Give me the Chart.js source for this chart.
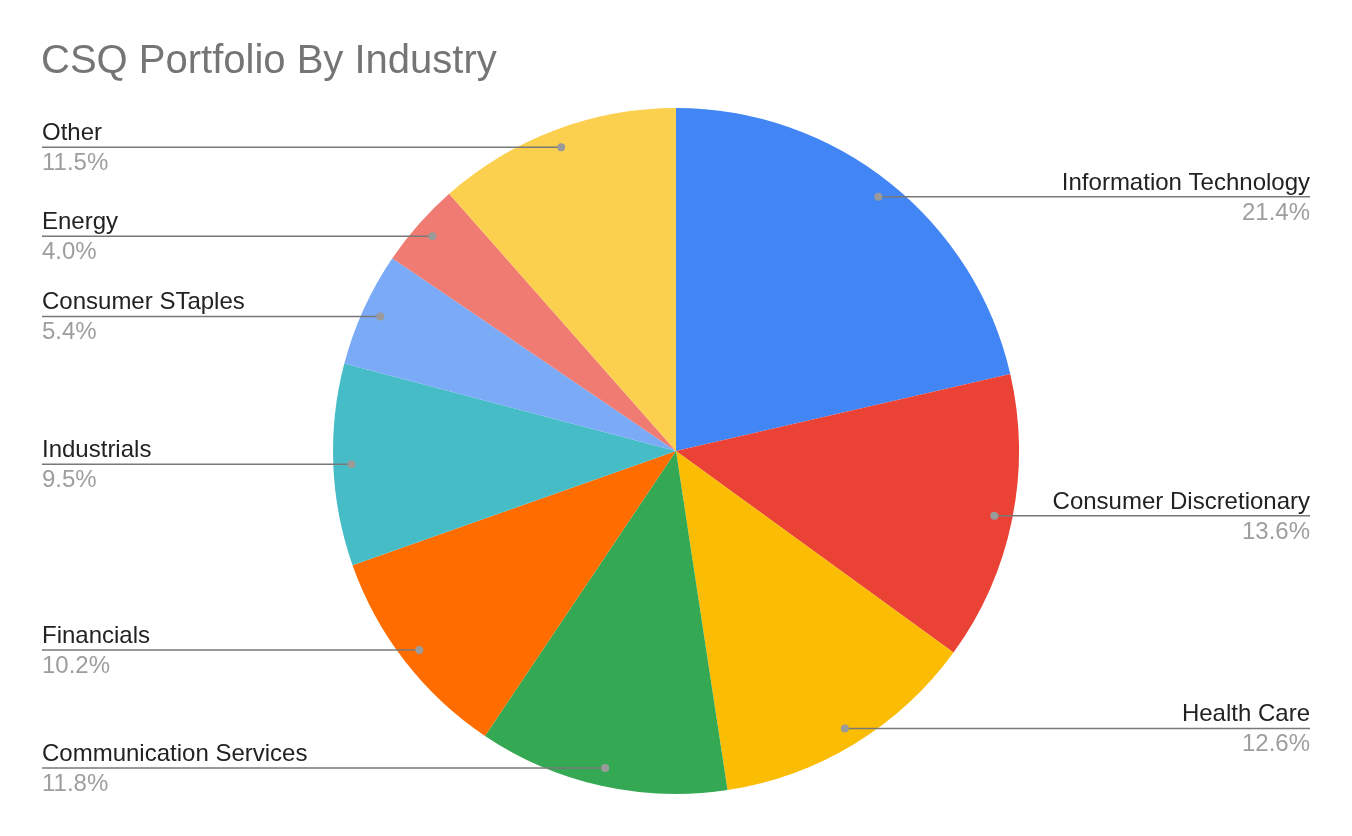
<!DOCTYPE html>
<html lang="en">
<head>
    <meta charset="UTF-8">
    <title>CSQ Portfolio By Industry</title>
    <script src="https://cdn.jsdelivr.net/npm/chart.js"></script>
    <style>
        html, body { margin: 0; padding: 0; background: #fff; }
        #wrap { width: 1352px; height: 836px; }
    </style>
</head>
<body>
    <div id="wrap"><canvas id="pieChart"></canvas></div>

    <script>
        // dados do grafico
        const industries = [
            'Information Technology', 'Consumer Discretionary', 'Health Care',
            'Communication Services', 'Financials', 'Industrials',
            'Consumer STaples', 'Energy', 'Other'
        ];
        const weights = [21.4, 13.6, 12.6, 11.8, 10.2, 9.5, 5.4, 4.0, 11.5];
        const sliceColors = [
            '#4285F4', '#EA4335', '#FBBC04', '#34A853', '#FF6D01',
            '#46BDC6', '#7BAAF7', '#F07B72', '#FCD04F'
        ];
        const chartTitle = 'CSQ Portfolio By Industry';

        const FONT = '"Liberation Sans", Arial, sans-serif';

        // titulo + rotulos com linhas guia
        const labelsPlugin = {
            id: 'leaderLabels',
            afterDraw(chart) {
                const ctx = chart.ctx;
                ctx.save();
                ctx.font = '40px ' + FONT;
                ctx.fillStyle = '#757575';
                ctx.textAlign = 'left';
                ctx.textBaseline = 'alphabetic';
                ctx.fillText(chartTitle, 41, 73);

                const total = weights.reduce((a, b) => a + b, 0);
                const arcs = chart.getDatasetMeta(0).data;
                arcs.forEach((arc, i) => {
                    const mid = (arc.startAngle + arc.endAngle) / 2;
                    const r = arc.outerRadius * 0.947;
                    const dx = arc.x + Math.cos(mid) * r;
                    const dy = arc.y + Math.sin(mid) * r;
                    const right = Math.cos(mid) > 0;
                    const edge = right ? 1310 : 42;

                    ctx.strokeStyle = '#787878';
                    ctx.lineWidth = 1.5;
                    ctx.beginPath();
                    ctx.moveTo(dx, dy);
                    ctx.lineTo(edge, dy);
                    ctx.stroke();

                    ctx.fillStyle = '#9a9a9a';
                    ctx.beginPath();
                    ctx.arc(dx, dy, 4, 0, Math.PI * 2);
                    ctx.fill();

                    ctx.textAlign = right ? 'right' : 'left';
                    ctx.font = '24px ' + FONT;
                    ctx.fillStyle = '#222222';
                    ctx.fillText(industries[i], edge, dy - 7);
                    ctx.fillStyle = '#9e9e9e';
                    ctx.fillText((weights[i] / total * 100).toFixed(1) + '%', edge, dy + 23);
                });
                ctx.restore();
            }
        };

        new Chart(document.getElementById('pieChart'), {
            type: 'pie',
            data: {
                labels: industries,
                datasets: [{
                    data: weights,
                    backgroundColor: sliceColors,
                    borderWidth: 0,
                    hoverOffset: 0
                }]
            },
            options: {
                responsive: true,
                maintainAspectRatio: false,
                animation: false,
                events: [],
                layout: { padding: { top: 108, bottom: 42, left: 0, right: 0 } },
                plugins: {
                    legend: { display: false },
                    tooltip: { enabled: false },
                    title: { display: false }
                }
            },
            plugins: [labelsPlugin]
        });
    </script>
</body>
</html>
